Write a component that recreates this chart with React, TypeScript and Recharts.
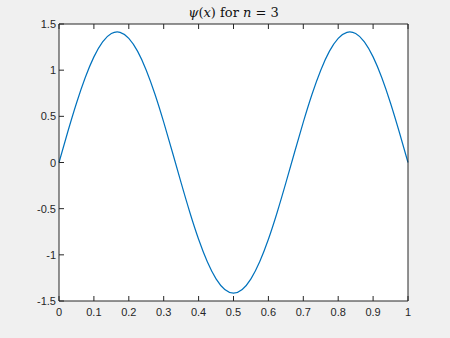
import React from "react";
import { LineChart, Line, XAxis, YAxis, CartesianGrid } from "recharts";

const xValues = [
  0, 0.025, 0.05, 0.075, 0.1, 0.125, 0.15, 0.175, 0.2, 0.225, 0.25, 0.275, 0.3, 0.325,
  0.35, 0.375, 0.4, 0.425, 0.45, 0.475, 0.5, 0.525, 0.55, 0.575, 0.6, 0.625, 0.65,
  0.675, 0.7, 0.725, 0.75, 0.775, 0.8, 0.825, 0.85, 0.875, 0.9, 0.925, 0.95, 0.975, 1,
];
const psiValues = [
  0, 0.33, 0.642, 0.918, 1.144, 1.307, 1.397, 1.41, 1.345, 1.206, 1.0, 0.739, 0.437,
  0.111, -0.221, -0.541, -0.831, -1.075, -1.26, -1.375, -1.414, -1.375, -1.26, -1.075,
  -0.831, -0.541, -0.221, 0.111, 0.437, 0.739, 1.0, 1.206, 1.345, 1.41, 1.397, 1.307,
  1.144, 0.918, 0.642, 0.33, 0,
];
const xTicks = [0, 0.1, 0.2, 0.3, 0.4, 0.5, 0.6, 0.7, 0.8, 0.9, 1];
const yTicks = [-1.5, -1, -0.5, 0, 0.5, 1, 1.5];

const data = xValues.map((x, i) => ({ x, psi: psiValues[i] }));

const AX = "#262626";
const FONT = "'Liberation Sans', Arial, Helvetica, sans-serif";
const TL = 5;

const BottomTick = (p: any) => (
  <g>
    <line x1={p.x} x2={p.x} y1={p.y} y2={p.y - TL} stroke={AX} strokeWidth={1} />
    <text x={p.x} y={p.y + 15} textAnchor="middle" fontSize={11} fill={AX} fontFamily={FONT}>
      {String(p.payload.value)}
    </text>
  </g>
);
const TopTick = (p: any) => (
  <line x1={p.x} x2={p.x} y1={p.y} y2={p.y + TL} stroke={AX} strokeWidth={1} />
);
const LeftTick = (p: any) => (
  <g>
    <line x1={p.x} x2={p.x + TL} y1={p.y} y2={p.y} stroke={AX} strokeWidth={1} />
    <text x={p.x - 3} y={p.y + 4} textAnchor="end" fontSize={11} fill={AX} fontFamily={FONT}>
      {String(p.payload.value)}
    </text>
  </g>
);
const RightTick = (p: any) => (
  <line x1={p.x} x2={p.x - TL} y1={p.y} y2={p.y} stroke={AX} strokeWidth={1} />
);

export default function App() {
  return (
    <div
      style={{
        position: "absolute",
        left: 0,
        top: 0,
        width: 450,
        height: 338,
        background: "#f0f0f0",
      }}
    >
      <LineChart
        width={450}
        height={338}
        data={data}
        margin={{ top: 23, right: 41, bottom: 17, left: 0 }}
        style={{ position: "absolute", left: 0, top: 0 }}
      >
        <CartesianGrid fill="#ffffff" horizontal={false} vertical={false} />
        <XAxis
          dataKey="x"
          type="number"
          domain={[0, 1]}
          ticks={xTicks}
          height={20}
          tickSize={0}
          tickMargin={0}
          axisLine={{ stroke: AX }}
          tickLine={false}
          tick={BottomTick}
          interval={0}
        />
        <XAxis
          xAxisId="top"
          orientation="top"
          dataKey="x"
          type="number"
          domain={[0, 1]}
          ticks={xTicks}
          height={1}
          tickSize={0}
          tickMargin={0}
          axisLine={{ stroke: AX }}
          tickLine={false}
          tick={TopTick}
          interval={0}
        />
        <YAxis
          type="number"
          domain={[-1.5, 1.5]}
          ticks={yTicks}
          width={59}
          tickSize={0}
          tickMargin={0}
          axisLine={{ stroke: AX }}
          tickLine={false}
          tick={LeftTick}
          interval={0}
        />
        <YAxis
          yAxisId="right"
          orientation="right"
          type="number"
          domain={[-1.5, 1.5]}
          ticks={yTicks}
          width={1}
          tickSize={0}
          tickMargin={0}
          axisLine={{ stroke: AX }}
          tickLine={false}
          tick={RightTick}
          interval={0}
        />
        <Line
          dataKey="psi"
          type="natural"
          stroke="#0072BD"
          strokeWidth={1.2}
          dot={false}
          isAnimationActive={false}
        />
      </LineChart>
      <div
        style={{
          position: "absolute",
          left: 59,
          width: 349,
          top: 4,
          textAlign: "center",
          fontFamily: "'DejaVu Serif', 'Liberation Serif', serif",
          fontSize: 13,
          color: "#111",
          lineHeight: "18px",
        }}
      >
        <i>ψ</i>(<i>x</i>) for <i>n</i> = 3
      </div>
    </div>
  );
}
